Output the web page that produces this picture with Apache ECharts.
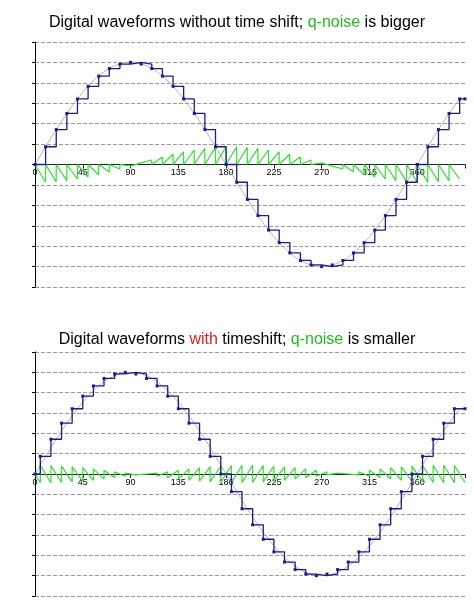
<!DOCTYPE html>
<html><head><meta charset="utf-8">
<script src="https://cdn.jsdelivr.net/npm/echarts@6/dist/echarts.min.js"></script>
<style>html,body{margin:0;padding:0;background:#fff}#c{width:474px;height:604px}</style>
</head><body><div id="c"></div>
<script>
// sample angles (degrees) and sampled values (amplitude 5 units)
const sampleAngles = [0,10,20,30,40,50,60,70,80,90,100,110,120,130,140,150,160,170,180,190,200,210,220,230,240,250,260,270,280,290,300,310,320,330,340,350,360,370,380,390,400];
const sampleValues = [0,0.87,1.71,2.5,3.21,3.83,4.33,4.7,4.92,5,4.92,4.7,4.33,3.83,3.21,2.5,1.71,0.87,0,-0.87,-1.71,-2.5,-3.21,-3.83,-4.33,-4.7,-4.92,-5,-4.92,-4.7,-4.33,-3.83,-3.21,-2.5,-1.71,-0.87,0,0.87,1.71,2.5,3.21];
// quantisation error peaks per sample interval (no time shift)
const errorPeaksTop = [-0.87,-0.84,-0.79,-0.71,-0.62,-0.5,-0.37,-0.22,-0.08,0.08,0.22,0.37,0.5,0.62,0.71,0.79,0.84,0.87,0.87,0.84,0.79,0.71,0.62,0.5,0.37,0.22,0.08,-0.08,-0.22,-0.37,-0.5,-0.62,-0.71,-0.79,-0.84,-0.87,-0.87,-0.84,-0.79,-0.71];
// quantisation error half-peaks per sample (with time shift)
const errorPeaksBottom = [0,0.43,0.42,0.39,0.35,0.31,0.25,0.18,0.11,0.04,0,-0.04,-0.11,-0.18,-0.25,-0.31,-0.35,-0.39,-0.42,-0.43,-0.43,-0.42,-0.39,-0.35,-0.31,-0.25,-0.18,-0.11,-0.04,0,0.04,0.11,0.18,0.25,0.31,0.35,0.39,0.42,0.43,0.43,0.42];
const xTickLabels = [0,45,90,135,180,225,270,315,360];

const NAVY='#1c1c84', GREEN='#33e033', GRAY='#b0b0b0';
const sine = sampleAngles.map((a,i)=>[a,sampleValues[i]]);
const stairTop = sampleAngles.map((a,i)=>[a,sampleValues[i]]);
stairTop.push([405,sampleValues[sampleValues.length-1]]);
const stairBot = [[0,0]];
sampleAngles.slice(1).forEach((a,i)=>stairBot.push([a-5,sampleValues[i+1]]));
stairBot.push([405,sampleValues[sampleValues.length-1]]);
const errTop=[];
errorPeaksTop.forEach((e,i)=>{errTop.push([sampleAngles[i],0]);errTop.push([sampleAngles[i]+9.9,e]);});
const errBot=[];
sampleAngles.forEach((a,i)=>{ if(i===0){errBot.push([0,0]);errBot.push([5,-errorPeaksBottom[1]]);return;}
  errBot.push([a-5,errorPeaksBottom[i]]); errBot.push([Math.min(a+5,405),-errorPeaksBottom[i]]);});

function xAx(g,off){return {type:'value',gridIndex:g,min:0,max:405,interval:45,position:'bottom',offset:off,
  axisLine:{onZero:false,lineStyle:{color:'#222',width:1}},axisTick:{show:true,length:4,inside:false,lineStyle:{color:'#222'}},
  axisLabel:{fontSize:9,color:'#000',margin:4,fontFamily:'Liberation Sans',formatter:v=>xTickLabels.includes(v)?String(v):''},splitLine:{show:false}};}
function yAx(g){return {type:'value',gridIndex:g,min:-6,max:6,interval:1,
  axisLine:{show:true,onZero:false,lineStyle:{color:'#000'}},axisTick:{show:true,length:3,lineStyle:{color:'#000'}},axisLabel:{show:false},
  splitLine:{show:true,lineStyle:{type:'dashed',color:'#999'}}};}
const titleRich={fontSize:16,fontFamily:'Liberation Sans',fontWeight:'normal',color:'#000'};
const opt={animation:false,
 title:[
  {text:'Digital waveforms without time shift; {g|q-noise} is bigger',left:'center',top:10,textStyle:{...titleRich,rich:{g:{...titleRich,color:'#22bb22'}}}},
  {text:'Digital waveforms {r|with} timeshift; {g|q-noise} is smaller',left:'center',top:327,textStyle:{...titleRich,rich:{g:{...titleRich,color:'#22bb22'},r:{...titleRich,color:'#e02020'}}}}],
 grid:[{left:35,right:9,top:42,height:245},{left:35,right:9,top:352,height:244}],
 xAxis:[xAx(0,-122.5),xAx(1,-122)], yAxis:[yAx(0),yAx(1)],
 series:[
  {type:'line',xAxisIndex:0,yAxisIndex:0,data:sine,smooth:true,symbol:'none',lineStyle:{color:GRAY,width:1}},
  {type:'line',xAxisIndex:0,yAxisIndex:0,data:errTop,symbol:'none',lineStyle:{color:GREEN,width:1.2}},
  {type:'line',xAxisIndex:0,yAxisIndex:0,data:stairTop,step:'end',symbol:'rect',symbolSize:3,itemStyle:{color:NAVY},lineStyle:{color:NAVY,width:1.3}},
  {type:'line',xAxisIndex:1,yAxisIndex:1,data:sine,smooth:true,symbol:'none',lineStyle:{color:GRAY,width:1}},
  {type:'line',xAxisIndex:1,yAxisIndex:1,data:errBot,symbol:'none',lineStyle:{color:GREEN,width:1.2}},
  {type:'line',xAxisIndex:1,yAxisIndex:1,data:stairBot,step:'end',symbol:'rect',symbolSize:3,itemStyle:{color:NAVY},lineStyle:{color:NAVY,width:1.3}}
 ]};
echarts.init(document.getElementById('c'),null,{renderer:'canvas'}).setOption(opt);
</script></body></html>
